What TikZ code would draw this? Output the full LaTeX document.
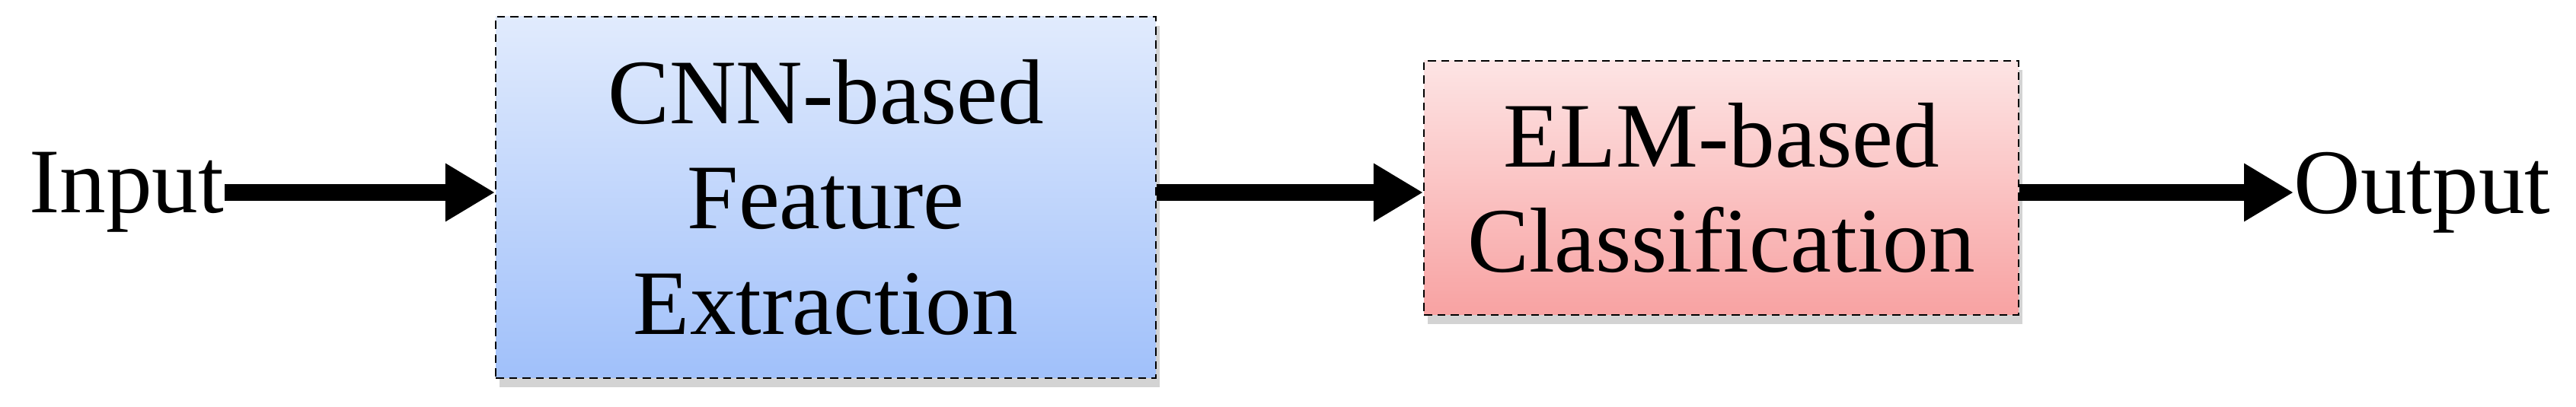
\documentclass[tikz,border=0pt]{standalone}
\usepackage{fontspec}
\setmainfont{Liberation Serif}
\usetikzlibrary{arrows.meta,positioning,shadows}
\definecolor{bluetop}{HTML}{E1EBFD}
\definecolor{bluebot}{HTML}{A0C0FA}
\definecolor{redtop}{HTML}{FDE4E4}
\definecolor{redbot}{HTML}{F8A2A2}

\begin{document}
\begin{tikzpicture}[
  > = {Triangle[length=0.65cm,width=0.72cm]},
  every node/.style = {font=\fontsize{34.5}{39.5}\selectfont},
  stage/.style = {draw,densely dashed,line width=0.6pt,align=center,
    drop shadow={shadow xshift=0.05cm,shadow yshift=-0.12cm,opacity=0.35}},
  flow/.style = {->,line width=0.22cm}
  ]
	\useasboundingbox (0,0) rectangle (33.83,-5.35);

	\node[stage,top color=bluetop,bottom color=bluebot,minimum width=8.67cm,minimum height=4.75cm]
		(cnn) at (10.845,-2.595) {CNN-based\\Feature\\Extraction};
	\node[stage,top color=redtop,bottom color=redbot,minimum width=7.81cm,minimum height=3.34cm]
		(elm) at (22.605,-2.47) {ELM-based\\Classification};

	\node[anchor=east,inner sep=0pt] (in) at (2.95,-2.53) {Input};
	\node[anchor=west,inner sep=0pt] (out) at (30.12,-2.53) {Output};

	\draw[flow] (in.east |- 0,-2.53) -- (cnn.west |- 0,-2.53);
	\draw[flow] (cnn.east |- 0,-2.53) -- (elm.west |- 0,-2.53);
	\draw[flow] (elm.east |- 0,-2.53) -- (out.west |- 0,-2.53);

\end{tikzpicture}
\end{document}
